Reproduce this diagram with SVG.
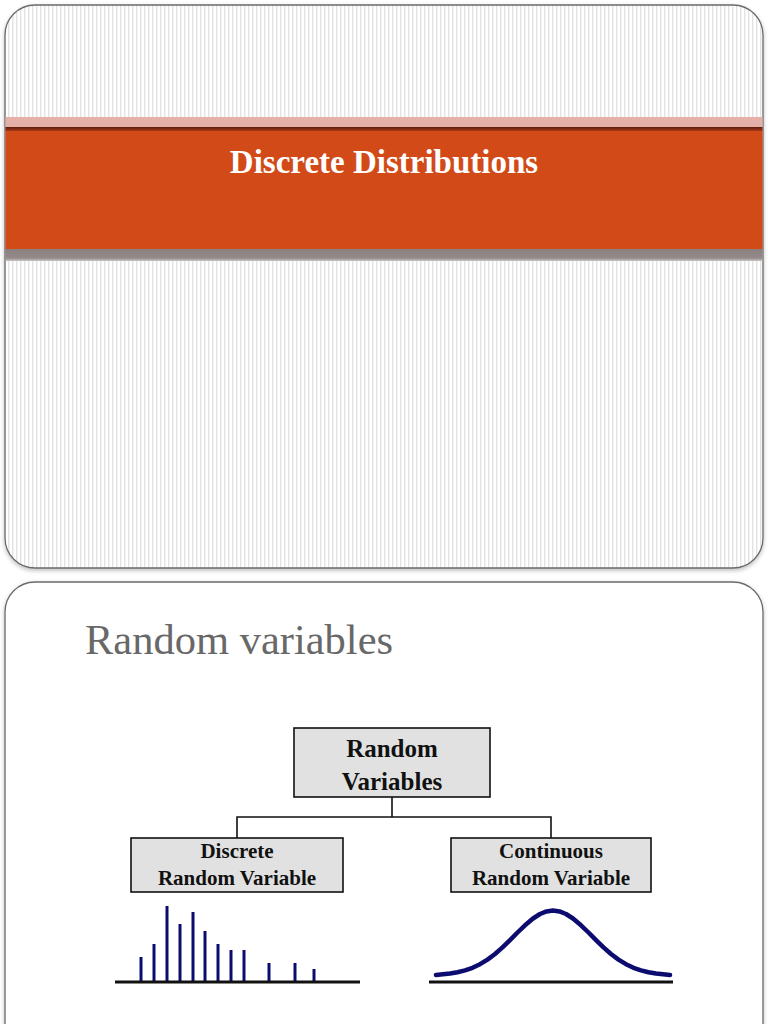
<svg xmlns="http://www.w3.org/2000/svg" width="768" height="1024" viewBox="0 0 768 1024">
<defs>
<pattern id="stripes" x="0" y="0" width="4" height="10" patternUnits="userSpaceOnUse">
<rect width="4" height="10" fill="#ffffff"/>
<rect x="0" width="1.4" height="10" fill="#e3e3e3"/>
</pattern>
<linearGradient id="darkedge" x1="0" y1="0" x2="0" y2="1">
<stop offset="0" stop-color="#5a1c08"/>
<stop offset="1" stop-color="#a8391a"/>
</linearGradient>
<linearGradient id="greyband" x1="0" y1="0" x2="0" y2="1">
<stop offset="0" stop-color="#8a8080"/>
<stop offset="0.75" stop-color="#948a8a"/>
<stop offset="1" stop-color="#c8c4c4"/>
</linearGradient>
<filter id="shadow" x="-5%" y="-5%" width="110%" height="110%">
<feDropShadow dx="0" dy="2" stdDeviation="2" flood-color="#000" flood-opacity="0.25"/>
</filter>
</defs>
<style>
.slide{stroke:#6a6a6a;stroke-width:1.3}
.box{fill:#e1e1e1;stroke:#111;stroke-width:1.6}
.lbl{font-family:"Liberation Serif",serif;font-weight:bold;fill:#111;text-anchor:middle}
.conn{fill:none;stroke:#111;stroke-width:1.6}
.bar{stroke:#0c0c70;stroke-width:3}
.axis{stroke:#111;stroke-width:3}
</style>

<g id="slide1">
<rect class="slide" x="5" y="5" width="758" height="563" rx="30" ry="30" fill="url(#stripes)" filter="url(#shadow)"/>
<rect x="5.5" y="117" width="757" height="10" fill="#e5b0a8"/>
<rect x="5.5" y="127" width="757" height="4" fill="url(#darkedge)"/>
<rect x="5.5" y="131" width="757" height="118" fill="#d14a18"/>
<rect x="5.5" y="249" width="757" height="12" fill="url(#greyband)"/>
<text x="384" y="173" font-family="Liberation Serif, serif" font-weight="bold" font-size="33" fill="#ffffff" text-anchor="middle">Discrete Distributions</text>
</g>

<g id="slide2">
<rect class="slide" x="5" y="582" width="758" height="480" rx="30" ry="30" fill="#ffffff" filter="url(#shadow)"/>
<text x="85" y="654" font-family="Liberation Serif, serif" font-size="42.5" fill="#686868">Random variables</text>
</g>

<g id="connectors">
<polyline class="conn" points="392,797 392,817"/>
<polyline class="conn" points="237,838 237,817 551,817 551,838"/>
</g>

<g id="node-random-variables">
<rect class="box" x="294" y="728" width="196" height="69"/>
<text class="lbl" x="392" y="757" font-size="25">Random</text>
<text class="lbl" x="392" y="790" font-size="25">Variables</text>
</g>

<g id="node-discrete">
<rect class="box" x="131" y="838" width="212" height="54"/>
<text class="lbl" x="237" y="858" font-size="21">Discrete</text>
<text class="lbl" x="237" y="885" font-size="21">Random Variable</text>
</g>

<g id="node-continuous">
<rect class="box" x="451" y="838" width="200" height="54"/>
<text class="lbl" x="551" y="858" font-size="21">Continuous</text>
<text class="lbl" x="551" y="885" font-size="21">Random Variable</text>
</g>

<g id="discrete-chart">
<line class="bar" x1="141" y1="957" x2="141" y2="982"/>
<line class="bar" x1="154" y1="944" x2="154" y2="982"/>
<line class="bar" x1="167" y1="906" x2="167" y2="982"/>
<line class="bar" x1="180" y1="924" x2="180" y2="982"/>
<line class="bar" x1="193" y1="912" x2="193" y2="982"/>
<line class="bar" x1="205" y1="931" x2="205" y2="982"/>
<line class="bar" x1="218" y1="944" x2="218" y2="982"/>
<line class="bar" x1="231" y1="950" x2="231" y2="982"/>
<line class="bar" x1="244" y1="950" x2="244" y2="982"/>
<line class="bar" x1="269" y1="963" x2="269" y2="982"/>
<line class="bar" x1="295" y1="963" x2="295" y2="982"/>
<line class="bar" x1="314" y1="969" x2="314" y2="982"/>
<line class="axis" x1="115" y1="982" x2="360" y2="982"/>
</g>

<g id="continuous-chart">
<line class="axis" x1="429" y1="982" x2="673" y2="982"/>
<polyline fill="none" stroke="#0c0c70" stroke-width="4.5" stroke-linejoin="round" stroke-linecap="round" points="436,975 450,973.5 457.5,972.3 465,970.4 472.5,967.8 480,964.2 487.5,959.6 495,954 502.5,947.4 510,940.1 517.5,932.5 525,925.3 533,918.5 540,914 546.5,911.4 553,910.5 559.5,911.4 566,914 573,918.5 581,925.3 588.5,932.5 596,940.1 603.5,947.4 611,954 618.5,959.6 626,964.2 633.5,967.8 641,970.4 648.5,972.3 656,973.5 670,975"/>
</g>
</svg>
